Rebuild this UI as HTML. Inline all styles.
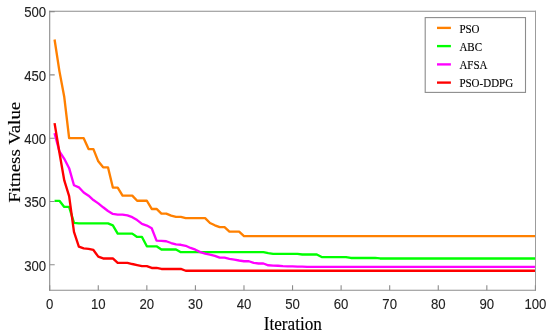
<!DOCTYPE html>
<html><head><meta charset="utf-8"><title>Fitness Value vs Iteration</title>
<style>html,body{margin:0;padding:0;background:#fff;width:550px;height:335px;overflow:hidden}svg{display:block}</style>
</head><body>
<svg width="550" height="335" viewBox="0 0 550 335">
<rect width="550" height="335" fill="#fff"/>
<g fill="none" stroke-width="2.35" stroke-linejoin="round" stroke-linecap="butt">
<path d="M54.56,39.45 L59.41,71.10 L64.27,97.05 L69.13,138.19 L73.98,138.19 L78.84,138.19 L83.70,138.19 L88.56,149.08 L93.41,149.08 L98.27,161.36 L103.13,167.31 L107.98,167.31 L112.84,187.56 L117.70,187.56 L122.56,195.66 L127.41,195.66 L132.27,195.66 L137.13,200.73 L141.98,200.73 L146.84,200.73 L151.70,208.96 L156.55,208.96 L161.41,213.64 L166.27,213.64 L171.12,215.66 L175.98,216.93 L180.84,216.93 L185.70,218.07 L190.55,218.07 L195.41,218.07 L200.27,218.07 L205.12,218.07 L209.98,223.01 L214.84,225.29 L219.69,227.18 L224.55,227.18 L229.41,231.62 L234.27,231.62 L239.12,231.62 L243.98,236.05 L248.84,236.05 L253.69,236.05 L258.55,236.05 L263.41,236.05 L268.26,236.05 L273.12,236.05 L277.98,236.05 L282.84,236.05 L287.69,236.05 L292.55,236.05 L297.41,236.05 L302.26,236.05 L307.12,236.05 L311.98,236.05 L316.83,236.05 L321.69,236.05 L326.55,236.05 L331.41,236.05 L336.26,236.05 L341.12,236.05 L345.98,236.05 L350.83,236.05 L355.69,236.05 L360.55,236.05 L365.40,236.05 L370.26,236.05 L375.12,236.05 L379.98,236.05 L384.83,236.05 L389.69,236.05 L394.55,236.05 L399.40,236.05 L404.26,236.05 L409.12,236.05 L413.97,236.05 L418.83,236.05 L423.69,236.05 L428.55,236.05 L433.40,236.05 L438.26,236.05 L443.12,236.05 L447.97,236.05 L452.83,236.05 L457.69,236.05 L462.55,236.05 L467.40,236.05 L472.26,236.05 L477.12,236.05 L481.97,236.05 L486.83,236.05 L491.69,236.05 L496.54,236.05 L501.40,236.05 L506.26,236.05 L511.12,236.05 L515.97,236.05 L520.83,236.05 L525.69,236.05 L530.54,236.05 L535.40,236.05" stroke="#ff8000"/>
<path d="M54.56,200.85 L59.41,200.85 L64.27,206.93 L69.13,206.93 L73.98,222.88 L78.84,223.39 L83.70,223.39 L88.56,223.39 L93.41,223.39 L98.27,223.39 L103.13,223.39 L107.98,223.39 L112.84,225.41 L117.70,233.64 L122.56,233.64 L127.41,233.64 L132.27,233.64 L137.13,236.93 L141.98,236.93 L146.84,246.30 L151.70,246.30 L156.55,246.30 L161.41,249.46 L166.27,249.46 L171.12,249.46 L175.98,249.46 L180.84,252.19 L185.70,252.19 L190.55,252.19 L195.41,252.19 L200.27,252.19 L205.12,252.19 L209.98,252.19 L214.84,252.19 L219.69,252.19 L224.55,252.19 L229.41,252.19 L234.27,252.19 L239.12,252.19 L243.98,252.19 L248.84,252.19 L253.69,252.19 L258.55,252.19 L263.41,252.19 L268.26,253.14 L273.12,253.89 L277.98,253.89 L282.84,253.89 L287.69,253.89 L292.55,253.89 L297.41,253.89 L302.26,254.53 L307.12,254.53 L311.98,254.53 L316.83,254.53 L321.69,257.06 L326.55,257.06 L331.41,257.06 L336.26,257.06 L341.12,257.06 L345.98,257.06 L350.83,257.95 L355.69,257.95 L360.55,257.95 L365.40,257.95 L370.26,257.95 L375.12,257.95 L379.98,258.45 L384.83,258.45 L389.69,258.45 L394.55,258.45 L399.40,258.45 L404.26,258.45 L409.12,258.45 L413.97,258.45 L418.83,258.45 L423.69,258.45 L428.55,258.45 L433.40,258.45 L438.26,258.45 L443.12,258.45 L447.97,258.45 L452.83,258.45 L457.69,258.45 L462.55,258.45 L467.40,258.45 L472.26,258.45 L477.12,258.45 L481.97,258.45 L486.83,258.45 L491.69,258.45 L496.54,258.45 L501.40,258.45 L506.26,258.45 L511.12,258.45 L515.97,258.45 L520.83,258.45 L525.69,258.45 L530.54,258.45 L535.40,258.45" stroke="#00ff00"/>
<path d="M54.56,133.13 L59.41,151.36 L64.27,158.83 L69.13,168.19 L73.98,185.28 L78.84,187.31 L83.70,192.50 L88.56,195.66 L93.41,200.09 L98.27,203.39 L103.13,207.31 L107.98,210.98 L112.84,213.89 L117.70,214.65 L122.56,214.65 L127.41,215.41 L132.27,217.18 L137.13,220.10 L141.98,223.89 L146.84,225.54 L151.70,228.20 L156.55,240.60 L161.41,240.86 L166.27,241.24 L171.12,243.01 L175.98,244.40 L180.84,244.78 L185.70,245.79 L190.55,247.95 L195.41,249.72 L200.27,252.12 L205.12,253.64 L209.98,254.65 L214.84,255.79 L219.69,257.69 L224.55,257.69 L229.41,258.83 L234.27,259.59 L239.12,260.48 L243.98,261.24 L248.84,261.24 L253.69,262.88 L258.55,263.52 L263.41,263.52 L268.26,265.29 L273.12,265.67 L277.98,265.79 L282.84,266.17 L287.69,266.30 L292.55,266.43 L297.41,266.55 L302.26,266.68 L307.12,266.93 L311.98,266.93 L316.83,266.93 L321.69,266.93 L326.55,266.93 L331.41,266.93 L336.26,266.93 L341.12,266.93 L345.98,266.93 L350.83,266.93 L355.69,266.93 L360.55,266.93 L365.40,266.93 L370.26,266.93 L375.12,266.93 L379.98,266.93 L384.83,266.93 L389.69,266.93 L394.55,266.93 L399.40,266.93 L404.26,266.93 L409.12,266.93 L413.97,266.93 L418.83,266.93 L423.69,266.93 L428.55,266.93 L433.40,266.93 L438.26,266.93 L443.12,266.93 L447.97,266.93 L452.83,266.93 L457.69,266.93 L462.55,266.93 L467.40,266.93 L472.26,266.93 L477.12,266.93 L481.97,266.93 L486.83,266.93 L491.69,266.93 L496.54,266.93 L501.40,266.93 L506.26,266.93 L511.12,266.93 L515.97,266.93 L520.83,266.93 L525.69,266.93 L530.54,266.93 L535.40,266.93" stroke="#ff00ff"/>
<path d="M54.56,123.13 L59.41,152.50 L64.27,180.47 L69.13,196.04 L73.98,231.87 L78.84,246.68 L83.70,248.45 L88.56,248.83 L93.41,249.97 L98.27,256.68 L103.13,258.45 L107.98,258.45 L112.84,258.45 L117.70,262.88 L122.56,262.88 L127.41,262.88 L132.27,264.02 L137.13,265.03 L141.98,266.17 L146.84,266.17 L151.70,267.95 L156.55,267.95 L161.41,268.96 L166.27,268.96 L171.12,268.96 L175.98,268.96 L180.84,268.96 L185.70,270.73 L190.55,270.73 L195.41,270.73 L200.27,270.73 L205.12,270.73 L209.98,270.73 L214.84,270.73 L219.69,270.73 L224.55,270.73 L229.41,270.73 L234.27,270.73 L239.12,270.73 L243.98,270.73 L248.84,270.73 L253.69,270.73 L258.55,270.73 L263.41,270.73 L268.26,270.73 L273.12,270.73 L277.98,270.73 L282.84,270.73 L287.69,270.73 L292.55,270.73 L297.41,270.73 L302.26,270.73 L307.12,270.73 L311.98,270.73 L316.83,270.73 L321.69,270.73 L326.55,270.73 L331.41,270.73 L336.26,270.73 L341.12,270.73 L345.98,270.73 L350.83,270.73 L355.69,270.73 L360.55,270.73 L365.40,270.73 L370.26,270.73 L375.12,270.73 L379.98,270.73 L384.83,270.73 L389.69,270.73 L394.55,270.73 L399.40,270.73 L404.26,270.73 L409.12,270.73 L413.97,270.73 L418.83,270.73 L423.69,270.73 L428.55,270.73 L433.40,270.73 L438.26,270.73 L443.12,270.73 L447.97,270.73 L452.83,270.73 L457.69,270.73 L462.55,270.73 L467.40,270.73 L472.26,270.73 L477.12,270.73 L481.97,270.73 L486.83,270.73 L491.69,270.73 L496.54,270.73 L501.40,270.73 L506.26,270.73 L511.12,270.73 L515.97,270.73 L520.83,270.73 L525.69,270.73 L530.54,270.73 L535.40,270.73" stroke="#ff0000"/>
</g>
<path d="M49.20,11.25 H536.00" stroke="#8c8c8c" stroke-width="1.1"/>
<path d="M49.20,290.30 H536.00" stroke="#8c8c8c" stroke-width="1.1"/>
<path d="M49.70,10.75 V290.80" stroke="#8c8c8c" stroke-width="1.1"/>
<path d="M535.50,10.75 V290.80" stroke="#9c9c9c" stroke-width="1.0"/>
<path d="M49.70,290.30 V285.30 M98.27,290.30 V285.30 M146.84,290.30 V285.30 M195.41,290.30 V285.30 M243.98,290.30 V285.30 M292.55,290.30 V285.30 M341.12,290.30 V285.30 M389.69,290.30 V285.30 M438.26,290.30 V285.30 M486.83,290.30 V285.30 M535.40,290.30 V285.30 M49.70,264.78 H54.70 M49.70,201.49 H54.70 M49.70,138.19 H54.70 M49.70,74.90 H54.70 M49.70,11.60 H54.70" stroke="#8c8c8c" stroke-width="1.1" fill="none"/>
<text transform="translate(49.70,308.60) scale(1,1.100)" text-anchor="middle" font-size="13.20" font-family="Liberation Sans, Arial, sans-serif" fill="#222" stroke="#222" stroke-width="0.1">0</text>
<text transform="translate(98.27,308.60) scale(1,1.100)" text-anchor="middle" font-size="13.20" font-family="Liberation Sans, Arial, sans-serif" fill="#222" stroke="#222" stroke-width="0.1">10</text>
<text transform="translate(146.84,308.60) scale(1,1.100)" text-anchor="middle" font-size="13.20" font-family="Liberation Sans, Arial, sans-serif" fill="#222" stroke="#222" stroke-width="0.1">20</text>
<text transform="translate(195.41,308.60) scale(1,1.100)" text-anchor="middle" font-size="13.20" font-family="Liberation Sans, Arial, sans-serif" fill="#222" stroke="#222" stroke-width="0.1">30</text>
<text transform="translate(243.98,308.60) scale(1,1.100)" text-anchor="middle" font-size="13.20" font-family="Liberation Sans, Arial, sans-serif" fill="#222" stroke="#222" stroke-width="0.1">40</text>
<text transform="translate(292.55,308.60) scale(1,1.100)" text-anchor="middle" font-size="13.20" font-family="Liberation Sans, Arial, sans-serif" fill="#222" stroke="#222" stroke-width="0.1">50</text>
<text transform="translate(341.12,308.60) scale(1,1.100)" text-anchor="middle" font-size="13.20" font-family="Liberation Sans, Arial, sans-serif" fill="#222" stroke="#222" stroke-width="0.1">60</text>
<text transform="translate(389.69,308.60) scale(1,1.100)" text-anchor="middle" font-size="13.20" font-family="Liberation Sans, Arial, sans-serif" fill="#222" stroke="#222" stroke-width="0.1">70</text>
<text transform="translate(438.26,308.60) scale(1,1.100)" text-anchor="middle" font-size="13.20" font-family="Liberation Sans, Arial, sans-serif" fill="#222" stroke="#222" stroke-width="0.1">80</text>
<text transform="translate(486.83,308.60) scale(1,1.100)" text-anchor="middle" font-size="13.20" font-family="Liberation Sans, Arial, sans-serif" fill="#222" stroke="#222" stroke-width="0.1">90</text>
<text transform="translate(535.40,308.60) scale(1,1.100)" text-anchor="middle" font-size="13.20" font-family="Liberation Sans, Arial, sans-serif" fill="#222" stroke="#222" stroke-width="0.1">100</text>
<text transform="translate(46.20,270.58) scale(1,1.100)" text-anchor="end" font-size="13.20" font-family="Liberation Sans, Arial, sans-serif" fill="#222" stroke="#222" stroke-width="0.1">300</text>
<text transform="translate(46.20,207.29) scale(1,1.100)" text-anchor="end" font-size="13.20" font-family="Liberation Sans, Arial, sans-serif" fill="#222" stroke="#222" stroke-width="0.1">350</text>
<text transform="translate(46.20,143.99) scale(1,1.100)" text-anchor="end" font-size="13.20" font-family="Liberation Sans, Arial, sans-serif" fill="#222" stroke="#222" stroke-width="0.1">400</text>
<text transform="translate(46.20,80.70) scale(1,1.100)" text-anchor="end" font-size="13.20" font-family="Liberation Sans, Arial, sans-serif" fill="#222" stroke="#222" stroke-width="0.1">450</text>
<text transform="translate(46.20,17.40) scale(1,1.100)" text-anchor="end" font-size="13.20" font-family="Liberation Sans, Arial, sans-serif" fill="#222" stroke="#222" stroke-width="0.1">500</text>
<text transform="translate(292.80,329.60) scale(1,1.100)" text-anchor="middle" font-size="17.20" font-family="Liberation Serif, Times New Roman, serif" fill="#000" stroke="#000" stroke-width="0.12">Iteration</text>
<text transform="translate(20.00,152.30) rotate(-90) scale(1.100,1)" text-anchor="middle" font-size="17.20" font-family="Liberation Serif, Times New Roman, serif" fill="#000" stroke="#000" stroke-width="0.12">Fitness Value</text>
<rect x="425.20" y="17.60" width="100.30" height="74.80" fill="#fff" stroke="#8c8c8c" stroke-width="1.1"/>
<path d="M437.0,27.90 H450.9" stroke="#ff8000" stroke-width="2.35"/>
<text transform="translate(459.4,32.60) scale(1,1.100)" font-size="11.00" font-family="Liberation Serif, Times New Roman, serif" fill="#000" stroke="#000" stroke-width="0.12">PSO</text>
<path d="M437.0,46.10 H450.9" stroke="#00ff00" stroke-width="2.35"/>
<text transform="translate(459.4,50.80) scale(1,1.100)" font-size="11.00" font-family="Liberation Serif, Times New Roman, serif" fill="#000" stroke="#000" stroke-width="0.12">ABC</text>
<path d="M437.0,64.40 H450.9" stroke="#ff00ff" stroke-width="2.35"/>
<text transform="translate(459.4,69.10) scale(1,1.100)" font-size="11.00" font-family="Liberation Serif, Times New Roman, serif" fill="#000" stroke="#000" stroke-width="0.12">AFSA</text>
<path d="M437.0,82.60 H450.9" stroke="#ff0000" stroke-width="2.35"/>
<text transform="translate(459.4,87.30) scale(1,1.100)" font-size="11.00" font-family="Liberation Serif, Times New Roman, serif" fill="#000" stroke="#000" stroke-width="0.12">PSO-DDPG</text>
</svg>
</body></html>
